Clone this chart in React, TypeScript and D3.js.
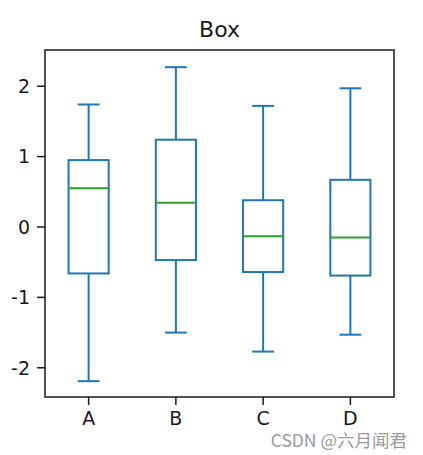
import React from "react";
import * as d3 from "d3";

const categories = ["A", "B", "C", "D"];
const whiskerHigh = [1.74, 2.27, 1.72, 1.97];
const q3 = [0.95, 1.24, 0.38, 0.67];
const median = [0.55, 0.345, -0.13, -0.15];
const q1 = [-0.66, -0.47, -0.64, -0.69];
const whiskerLow = [-2.19, -1.5, -1.77, -1.53];
const yTicks = [-2, -1, 0, 1, 2];
const title = "Box";
const watermark = "CSDN @六月闻君";

const W = 423;
const H = 455;
const left = 45;
const right = 394;
const top = 50;
const bottom = 397;

export default function App() {
  const x = d3.scaleLinear().domain([0.5, 4.5]).range([left, right]);
  const y = d3.scaleLinear().domain([-2.415, 2.514]).range([bottom, top]);
  const boxW = 0.46;
  const capW = 0.25;
  const blue = "#1f77b4";
  const green = "#2ca02c";
  const font = "DejaVu Sans, sans-serif";

  return (
    <div style={{ position: "fixed", left: 0, top: 0, width: W, height: H, background: "#fff" }}>
      <svg width={W} height={H} style={{ display: "block" }}>
        <rect width={W} height={H} fill="#fff" />
        <text x={(left + right) / 2} y={37} textAnchor="middle" fontFamily={font} fontSize={22} fill="#1a1a1a">
          {title}
        </text>
        {categories.map((c, i) => {
          const p = i + 1;
          const cx = x(p);
          const bx0 = x(p - boxW / 2);
          const bx1 = x(p + boxW / 2);
          const cx0 = x(p - capW / 2);
          const cx1 = x(p + capW / 2);
          return (
            <g key={c} stroke={blue} strokeWidth={2} fill="none">
              <line x1={cx} x2={cx} y1={y(q3[i])} y2={y(whiskerHigh[i])} />
              <line x1={cx} x2={cx} y1={y(q1[i])} y2={y(whiskerLow[i])} />
              <line x1={cx0} x2={cx1} y1={y(whiskerHigh[i])} y2={y(whiskerHigh[i])} />
              <line x1={cx0} x2={cx1} y1={y(whiskerLow[i])} y2={y(whiskerLow[i])} />
              <rect x={bx0} y={y(q3[i])} width={bx1 - bx0} height={y(q1[i]) - y(q3[i])} />
              <line x1={bx0} x2={bx1} y1={y(median[i])} y2={y(median[i])} stroke={green} />
            </g>
          );
        })}
        <rect x={left} y={top} width={right - left} height={bottom - top} fill="none" stroke="#1a1a1a" strokeWidth={1.5} />
        {yTicks.map((t) => (
          <g key={t}>
            <line x1={left - 8} x2={left} y1={y(t)} y2={y(t)} stroke="#1a1a1a" strokeWidth={1.5} />
            <text x={left - 15} y={y(t)} dy="0.36em" textAnchor="end" fontFamily={font} fontSize={19} fill="#1a1a1a">
              {t}
            </text>
          </g>
        ))}
        {categories.map((c, i) => (
          <g key={c}>
            <line x1={x(i + 1)} x2={x(i + 1)} y1={bottom} y2={bottom + 8} stroke="#1a1a1a" strokeWidth={1.5} />
            <text x={x(i + 1)} y={bottom + 28} textAnchor="middle" fontFamily={font} fontSize={19} fill="#1a1a1a">
              {c}
            </text>
          </g>
        ))}
        <text x={407} y={447} textAnchor="end" fontFamily="Noto Sans CJK SC, sans-serif" fontSize={17.5} fill="#9a9a9a">
          {watermark}
        </text>
      </svg>
    </div>
  );
}
